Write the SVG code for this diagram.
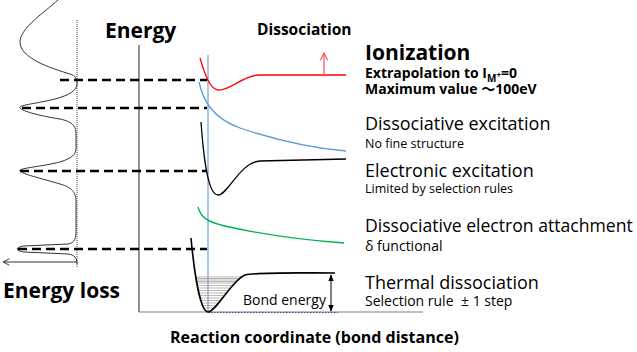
<svg xmlns="http://www.w3.org/2000/svg" width="637" height="352" viewBox="0 0 637 352">
<style>
.b{font-family:"Open Sans","Noto Sans CJK JP",sans-serif;font-weight:bold;fill:#000}
.r{font-family:"Open Sans","Noto Sans CJK JP",sans-serif;fill:#000}
.dash{stroke:#000;stroke-width:2.5;stroke-dasharray:9,5;fill:none}
.hatch{stroke:#999;stroke-width:0.7}
</style>
<defs>
<marker id="open" viewBox="0 0 10 10" refX="9" refY="5" markerWidth="8" markerHeight="8" orient="auto" markerUnits="userSpaceOnUse">
<path d="M1,1 L9,5 L1,9" fill="none" stroke="#333" stroke-width="1.2"/>
</marker>
<marker id="redopen" viewBox="0 0 10 10" refX="9" refY="5" markerWidth="9" markerHeight="9" orient="auto" markerUnits="userSpaceOnUse">
<path d="M1,1 L9,5 L1,9" fill="none" stroke="#f05050" stroke-width="1.2"/>
</marker>
<marker id="tri" viewBox="0 0 10 10" refX="9" refY="5" markerWidth="7" markerHeight="7" orient="auto-start-reverse" markerUnits="userSpaceOnUse">
<path d="M0,1 L10,5 L0,9 Z" fill="#000"/>
</marker>
<clipPath id="well">
<path d="M191,238 C194,270 200,312 208,312 C216,312 232,280 245,275 L245,238 Z"/>
</clipPath>
</defs>

<g id="spectrum">
<line x1="77" y1="20" x2="77" y2="268" stroke="#444" stroke-width="1" stroke-dasharray="1,1"/>
<path d="M58,0 C45,12 20,28 20,42 C20,58 50,68 70,74 C76,76 77,79 77,84 C77,90 70,95 55,99 C35,104 18,105 20,108 C22,111 40,116 60,119 C74,122 76,127 76,135 L76,148 C76,155 72,158 60,162 C40,167 18,168 20,171 C22,174 40,178 60,184 C74,188 76,194 76,202 L76,230 C76,238 75,243 68,244 L24,246 C15,247 15,251 24,252 L68,254 C75,255 77,258 77,264" fill="none" stroke="#333" stroke-width="1"/>
<line x1="77" y1="262" x2="3" y2="262" stroke="#333" stroke-width="1" marker-end="url(#open)"/>
</g>

<g id="axes">
<line x1="139" y1="45" x2="139" y2="312" stroke="#222" stroke-width="1"/>
<line x1="139" y1="312" x2="423" y2="312" stroke="#808080" stroke-width="1.2"/>
<line x1="208" y1="312.5" x2="338" y2="312.5" stroke="#2f5597" stroke-width="1" stroke-dasharray="1.5,1.5"/>
<line x1="208" y1="55" x2="208" y2="312" stroke="#6fa0d8" stroke-width="1.2"/>
</g>

<g id="connectors">
<line class="dash" x1="60" y1="80" x2="207" y2="80"/>
<line class="dash" x1="22" y1="108" x2="207" y2="108"/>
<line class="dash" x1="20" y1="171" x2="207" y2="171"/>
<line class="dash" x1="18" y1="249" x2="207" y2="249"/>
</g>

<g id="ionization-curve">
<path d="M200,58 C205,75 210,89 218,90 C230,91 242,76 258,75 L346,75" fill="none" stroke="#ff0000" stroke-width="1.3"/>
<line x1="324" y1="75" x2="324" y2="53" stroke="#f05050" stroke-width="1.2" marker-end="url(#redopen)"/>
</g>

<g id="dissociative-excitation-curve">
<path d="M199,82 C203,100 212,118 240,128 C270,138 310,148 346,151" fill="none" stroke="#5b9bd5" stroke-width="1.3"/>
</g>

<g id="electronic-excitation-curve">
<path d="M201,122 C203,150 207,195 218,195 C228,195 240,162 260,161 L346,159" fill="none" stroke="#000" stroke-width="1.3"/>
</g>

<g id="attachment-curve">
<path d="M198,207 C201,218 208,222 225,226 C260,234 300,240 344,243" fill="none" stroke="#00b050" stroke-width="1.3"/>
</g>

<g id="thermal-curve">
<g clip-path="url(#well)">
<line class="hatch" x1="188" y1="277" x2="250" y2="277"/>
<line class="hatch" x1="188" y1="278.5" x2="250" y2="278.5"/>
<line class="hatch" x1="188" y1="280" x2="250" y2="280"/>
<line class="hatch" x1="188" y1="281.5" x2="250" y2="281.5"/>
<line class="hatch" x1="188" y1="283" x2="250" y2="283"/>
<line class="hatch" x1="188" y1="285.5" x2="250" y2="285.5"/>
<line class="hatch" x1="188" y1="288" x2="250" y2="288"/>
<line class="hatch" x1="188" y1="290.5" x2="250" y2="290.5"/>
<line class="hatch" x1="188" y1="293" x2="250" y2="293"/>
<line class="hatch" x1="188" y1="295.5" x2="250" y2="295.5"/>
<line class="hatch" x1="188" y1="298" x2="250" y2="298"/>
<line class="hatch" x1="188" y1="300.5" x2="250" y2="300.5"/>
<line class="hatch" x1="188" y1="303" x2="250" y2="303"/>
<line class="hatch" x1="188" y1="305.5" x2="250" y2="305.5"/>
<line class="hatch" x1="188" y1="308" x2="250" y2="308"/>
<line class="hatch" x1="188" y1="310.5" x2="250" y2="310.5"/>
</g>
<path d="M191,238 C194,270 200,312 208,312 C216,312 232,280 245,275 C260,272 300,273 335,273" fill="none" stroke="#000" stroke-width="1.6"/>
<line x1="331" y1="275" x2="331" y2="311" stroke="#000" stroke-width="1" marker-start="url(#tri)" marker-end="url(#tri)"/>
<text class="r" x="243" y="305" font-size="14">Bond energy</text>
</g>

<g id="labels">
<text class="b" x="105" y="38" font-size="21">Energy</text>
<text class="b" x="3" y="298" font-size="21">Energy loss</text>
<text class="b" x="257" y="35" font-size="15.5">Dissociation</text>
<text class="b" x="170" y="343" font-size="16">Reaction coordinate (bond distance)</text>
</g>

<g id="ionization">
<text class="b" x="365" y="60" font-size="21">Ionization</text>
<text class="b" x="365" y="78" font-size="14">Extrapolation to I<tspan font-size="10" dy="3.5">M</tspan><tspan font-size="8" dy="-4">+</tspan><tspan dy="0.5">=0</tspan></text>
<text class="b" x="365" y="94" font-size="14">Maximum value ～100eV</text>
</g>

<g id="dissociative-excitation">
<text class="r" x="365" y="130" font-size="18">Dissociative excitation</text>
<text class="r" x="365" y="148" font-size="12.5">No fine structure</text>
</g>

<g id="electronic-excitation">
<text class="r" x="365" y="177" font-size="18">Electronic excitation</text>
<text class="r" x="365" y="193" font-size="12.5">Limited by selection rules</text>
</g>

<g id="attachment">
<text class="r" x="365" y="232" font-size="17.6">Dissociative electron attachment</text>
<text class="r" x="365" y="251" font-size="14">δ functional</text>
</g>

<g id="thermal">
<text class="r" x="365" y="289" font-size="18">Thermal dissociation</text>
<text class="r" x="365" y="306" font-size="14">Selection rule</text>
<text class="r" x="461" y="306" font-size="14">± 1 step</text>
</g>
</svg>
